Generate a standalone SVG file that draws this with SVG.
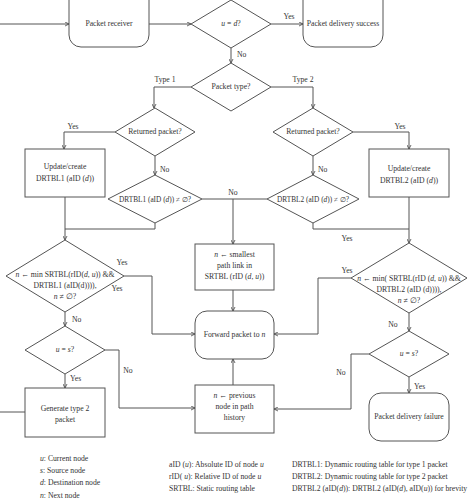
<svg xmlns="http://www.w3.org/2000/svg" width="474" height="499" viewBox="0 0 474 499">
<style>
text{font-family:"Liberation Serif","Times New Roman",serif;font-size:7.7px;fill:#333;}
.c{text-anchor:middle;}
.i{font-style:italic;}
.s{fill:#fff;stroke:#555;stroke-width:1;}
.l{fill:none;stroke:#555;stroke-width:1;}
.a{marker-end:url(#arr);}
</style>
<defs>
<marker id="arr" viewBox="0 0 10 10" refX="9" refY="5" markerWidth="5" markerHeight="5" markerUnits="userSpaceOnUse" orient="auto">
<path d="M1,1 L9,5 L1,9" fill="none" stroke="#444" stroke-width="1.6"/>
</marker>
</defs>
<rect width="474" height="499" fill="#fff"/>

<g id="connectors">
<path class="l a" d="M0,24 H69"/>
<path class="l a" d="M149,24 H191"/>
<path class="l a" d="M271,24 H303"/>
<path class="l a" d="M231,48 V63"/>
<path class="l a" d="M191,87 H154 V108"/>
<path class="l a" d="M271,87 H313 V108"/>
<path class="l a" d="M115,132 H64 V149"/>
<path class="l a" d="M353,132 H409 V149"/>
<path class="l a" d="M155,156 V175"/>
<path class="l a" d="M313,156 V175"/>
<path class="l" d="M202,199 H267"/>
<path class="l a" d="M233,199 V244"/>
<path class="l" d="M155,223 V229 H65"/>
<path class="l a" d="M65,197 V240"/>
<path class="l" d="M313,223 V229 H409"/>
<path class="l a" d="M409,197 V243"/>
<path class="l a" d="M124,276 H152 V334 H195"/>
<path class="l a" d="M351,278 H318 V334 H274"/>
<path class="l a" d="M233,290 V311"/>
<path class="l a" d="M65,312 V326"/>
<path class="l a" d="M409,313 V331"/>
<path class="l a" d="M105,350 H119 V408 H195"/>
<path class="l a" d="M369,354 H351 V409 H274"/>
<path class="l a" d="M65,374 V388"/>
<path class="l a" d="M409,377 V393"/>
<path class="l a" d="M233,385 V359"/>
<path class="l" d="M25,412 H0"/>
<text x="289" y="19" class="c">Yes</text>
<text x="237" y="57">No</text>
<text x="165" y="82" class="c">Type 1</text>
<text x="303" y="82" class="c">Type 2</text>
<text x="73" y="129" class="c">Yes</text>
<text x="400" y="129" class="c">Yes</text>
<text x="160" y="172">No</text>
<text x="318" y="172">No</text>
<text x="233" y="195" class="c">No</text>
<text x="347" y="241" class="c">Yes</text>
<text x="122" y="265" class="c">Yes</text>
<text x="117" y="291" class="c">Yes</text>
<text x="347" y="273" class="c">Yes</text>
<text x="72" y="322">No</text>
<text x="393" y="327" class="c">No</text>
<text x="128" y="373" class="c">No</text>
<text x="341" y="375" class="c">No</text>
<text x="70" y="381">Yes</text>
<text x="414" y="389">Yes</text>
</g>

<g id="packet-receiver">
<rect class="s" x="69" y="-30" width="80" height="77" rx="12"/>
<text x="109" y="26" class="c">Packet receiver</text>
</g>
<g id="u-eq-d">
<polygon class="s" points="231,0 271,24 231,48 191,24"/>
<text x="231" y="26" class="c"><tspan class="i">u</tspan> = <tspan class="i">d</tspan>?</text>
</g>
<g id="delivery-success">
<rect class="s" x="303" y="-30" width="80" height="77" rx="12"/>
<text x="343" y="26" class="c">Packet delivery success</text>
</g>
<g id="packet-type">
<polygon class="s" points="231,63 271,87 231,111 191,87"/>
<text x="231" y="89" class="c">Packet type?</text>
</g>
<g id="returned1">
<polygon class="s" points="155,108 195,132 155,156 115,132"/>
<text x="155" y="134" class="c">Returned packet?</text>
</g>
<g id="returned2">
<polygon class="s" points="313,108 353,132 313,156 273,132"/>
<text x="313" y="134" class="c">Returned packet?</text>
</g>
<g id="update1">
<rect class="s" x="25" y="149" width="80" height="48"/>
<text x="65" y="169" class="c">Update/create</text>
<text x="65" y="181" class="c">DRTBL1 (aID (<tspan class="i">d</tspan>))</text>
</g>
<g id="update2">
<rect class="s" x="369" y="149" width="80" height="48"/>
<text x="409" y="171" class="c">Update/create</text>
<text x="409" y="183" class="c">DRTBL2 (aID (<tspan class="i">d</tspan>))</text>
</g>
<g id="drtbl1-check">
<polygon class="s" points="155,175 202,199 155,223 108,199"/>
<text x="155" y="201.5" class="c" style="font-size:7.3px">DRTBL1 (aID (<tspan class="i">d</tspan>)) ≠ ∅?</text>
</g>
<g id="drtbl2-check">
<polygon class="s" points="313,175 359,199 313,223 267,199"/>
<text x="313" y="201.5" class="c" style="font-size:7.3px">DRTBL2 (aID (<tspan class="i">d</tspan>)) ≠ ∅?</text>
</g>
<g id="smallest">
<rect class="s" x="195" y="244" width="79" height="46"/>
<text x="234.5" y="257" class="c"><tspan class="i">n</tspan> ← smallest</text>
<text x="234.5" y="268" class="c">path link in</text>
<text x="234.5" y="279" class="c">SRTBL (rID (<tspan class="i">d</tspan>, <tspan class="i">u</tspan>))</text>
</g>
<g id="min1">
<polygon class="s" points="65,240 124,276 65,312 6,276"/>
<text x="65" y="277" class="c"><tspan class="i">n</tspan> ← min SRTBL(rID(<tspan class="i">d</tspan>, <tspan class="i">u</tspan>)) &amp;&amp;</text>
<text x="65" y="288" class="c">DRTBL1 (aID(d)))),</text>
<text x="65" y="299" class="c"><tspan class="i">n</tspan> ≠ ∅?</text>
</g>
<g id="min2">
<polygon class="s" points="409,243 467,278 409,313 351,278"/>
<text x="409" y="281" class="c"><tspan class="i">n</tspan> ← min( SRTBL(rID (<tspan class="i">d</tspan>, <tspan class="i">u</tspan>)) &amp;&amp;</text>
<text x="409" y="292" class="c">DRTBL2 (aID (d)))),</text>
<text x="409" y="303" class="c"><tspan class="i">n</tspan> ≠ ∅?</text>
</g>
<g id="forward">
<rect class="s" x="195" y="311" width="79" height="48" rx="12"/>
<text x="234.5" y="337" class="c">Forward packet to <tspan class="i">n</tspan></text>
</g>
<g id="u-eq-s-1">
<polygon class="s" points="65,326 105,350 65,374 25,350"/>
<text x="65" y="352" class="c"><tspan class="i">u</tspan> = <tspan class="i">s</tspan>?</text>
</g>
<g id="u-eq-s-2">
<polygon class="s" points="409,331 449,354 409,377 369,354"/>
<text x="409" y="356" class="c"><tspan class="i">u</tspan> = <tspan class="i">s</tspan>?</text>
</g>
<g id="generate">
<rect class="s" x="25" y="388" width="80" height="49"/>
<text x="65" y="411" class="c">Generate type 2</text>
<text x="65" y="422" class="c">packet</text>
</g>
<g id="previous">
<rect class="s" x="195" y="385" width="79" height="48"/>
<text x="234.5" y="398" class="c"><tspan class="i">n</tspan> ← previous</text>
<text x="234.5" y="409" class="c">node in path</text>
<text x="234.5" y="420" class="c">history</text>
</g>
<g id="delivery-failure">
<rect class="s" x="369" y="393" width="80" height="48" rx="12"/>
<text x="409" y="419" class="c">Packet delivery failure</text>
</g>

<g id="legend">
<text x="40" y="460.5"><tspan class="i">u</tspan>: Current node</text>
<text x="40" y="472.5"><tspan class="i">s</tspan>: Source node</text>
<text x="40" y="485"><tspan class="i">d</tspan>: Destination node</text>
<text x="40" y="497.5"><tspan class="i">n</tspan>: Next node</text>
<text x="169" y="467">aID (<tspan class="i">u</tspan>): Absolute ID of node <tspan class="i">u</tspan></text>
<text x="169" y="479">rID( <tspan class="i">u</tspan>): Relative ID of node <tspan class="i">u</tspan></text>
<text x="169" y="491">SRTBL: Static routing table</text>
<text x="292" y="467">DRTBL1: Dynamic routing table for type 1 packet</text>
<text x="292" y="479">DRTBL2: Dynamic routing table for type 2 packet</text>
<text x="292" y="491">DRTBL2 (aID(<tspan class="i">d</tspan>)): DRTBL2 (aID(<tspan class="i">d</tspan>), aID(<tspan class="i">u</tspan>)) for brevity</text>
</g>
</svg>
